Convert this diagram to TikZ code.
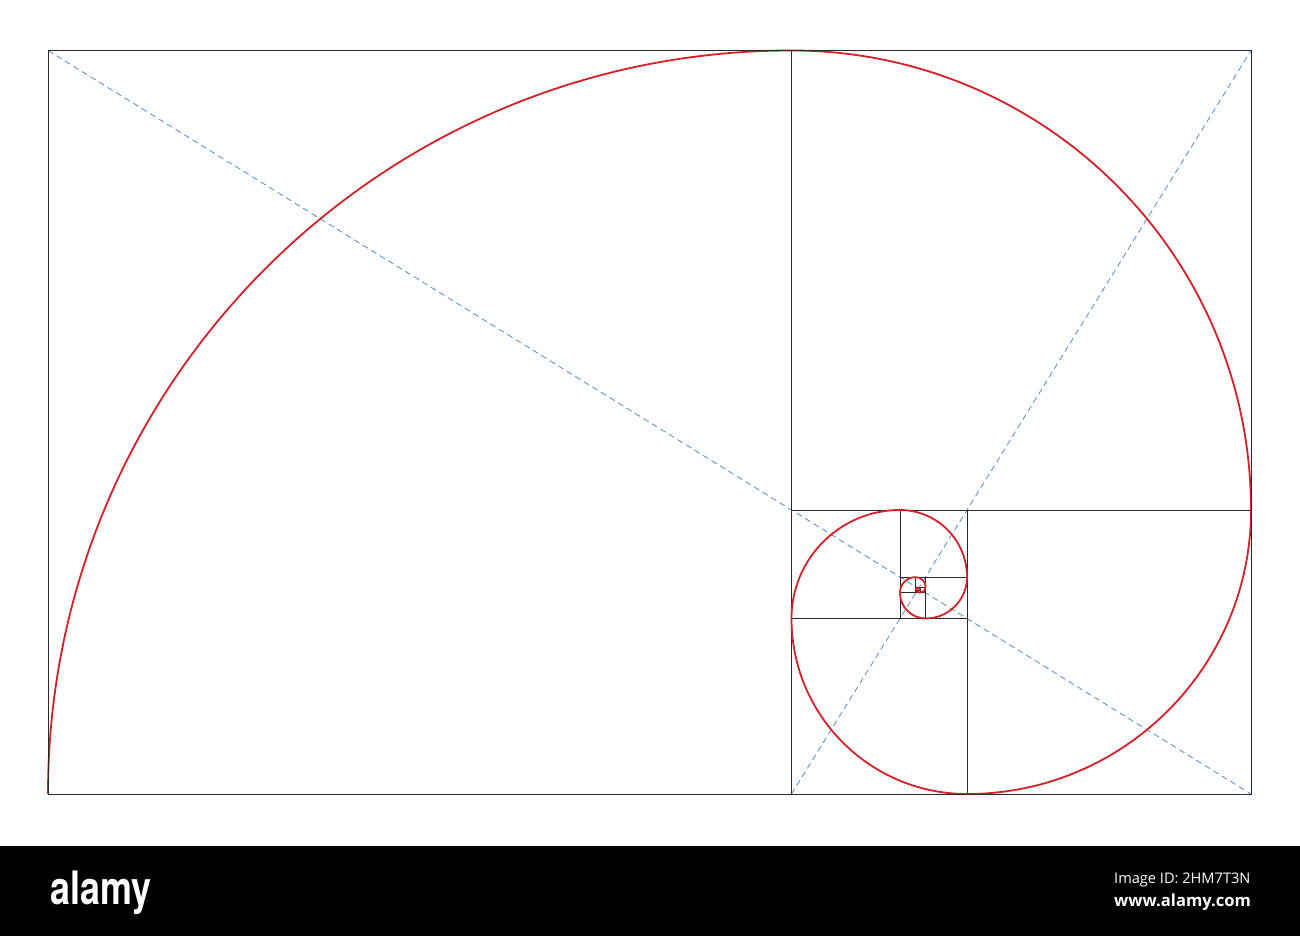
\documentclass[tikz,border=0pt]{standalone}
\usepackage{fontspec}
\setmainfont{Open Sans}
\newfontfamily\logofont{TeX Gyre Heros}
\definecolor{spiralred}{HTML}{D42027}
\definecolor{diagblue}{HTML}{5A8AC0}
\definecolor{linegray}{HTML}{2A2A2A}
\begin{document}
\begin{tikzpicture}[x=1pt,y=1pt,
  sq/.style={draw=linegray,line width=0.9pt},
  sp/.style={draw=spiralred,line width=1.8pt},
  diag/.style={draw=diagblue,line width=0.8pt,dash pattern=on 6pt off 4pt}]
\useasboundingbox (0,0) rectangle (1300,936);
\fill[white] (0,90) rectangle (1300,936);
\fill[black] (0,0) rectangle (1300,90);
% golden rectangle
\coordinate (A) at (48,142);
\coordinate (B) at (1251,885.49);
\coordinate (TL) at (48,885.49);
\coordinate (BRc) at (1251,142);
\pgfmathsetmacro\sfirst{885.49-142}
\coordinate (BS) at (48+\sfirst,142);
\coordinate (TS) at (48+\sfirst,885.49);
\draw[diag] (TL) -- (BRc);
\draw[diag] (BS) -- (B);
\def\xa{48}\def\xb{1251}\def\ya{142}\def\yb{885.49}
\foreach \k in {0,...,13}{
  \pgfmathtruncatemacro\m{mod(\k,4)}
  \ifcase\m
    \pgfmathsetmacro\s{\yb-\ya}
    \pgfmathsetmacro\nx{\xa+\s}
    \draw[sq] (\nx,\ya) -- (\nx,\yb);
    \draw[sp] (\xa,\ya) arc[start angle=180,end angle=90,radius=\s];
    \xdef\xa{\nx}
  \or
    \pgfmathsetmacro\s{\xb-\xa}
    \pgfmathsetmacro\ny{\yb-\s}
    \draw[sq] (\xa,\ny) -- (\xb,\ny);
    \draw[sp] (\xa,\yb) arc[start angle=90,end angle=0,radius=\s];
    \xdef\yb{\ny}
  \or
    \pgfmathsetmacro\s{\yb-\ya}
    \pgfmathsetmacro\nx{\xb-\s}
    \draw[sq] (\nx,\ya) -- (\nx,\yb);
    \draw[sp] (\xb,\yb) arc[start angle=0,end angle=-90,radius=\s];
    \xdef\xb{\nx}
  \or
    \pgfmathsetmacro\s{\xb-\xa}
    \pgfmathsetmacro\ny{\ya+\s}
    \draw[sq] (\xa,\ny) -- (\xb,\ny);
    \draw[sp] (\xb,\ya) arc[start angle=-90,end angle=-180,radius=\s];
    \xdef\ya{\ny}
  \fi
}
\draw[sq] (A) rectangle (B);
% watermark bar
\node[anchor=base west,inner sep=0pt,text=white] (logo) at (50,31)
  {\logofont\bfseries\fontsize{46}{46}\selectfont\scalebox{0.78}[1]{alamy}};
\node[anchor=base west,inner sep=0pt,text=white] (imgid) at (1114,52)
  {\fontsize{14.6}{15}\selectfont Image ID: 2HM7T3N};
\node[anchor=base west,inner sep=0pt,text=white] (www) at (1114,29)
  {\bfseries\fontsize{16.6}{17}\selectfont www.alamy.com};
\end{tikzpicture}
\end{document}
